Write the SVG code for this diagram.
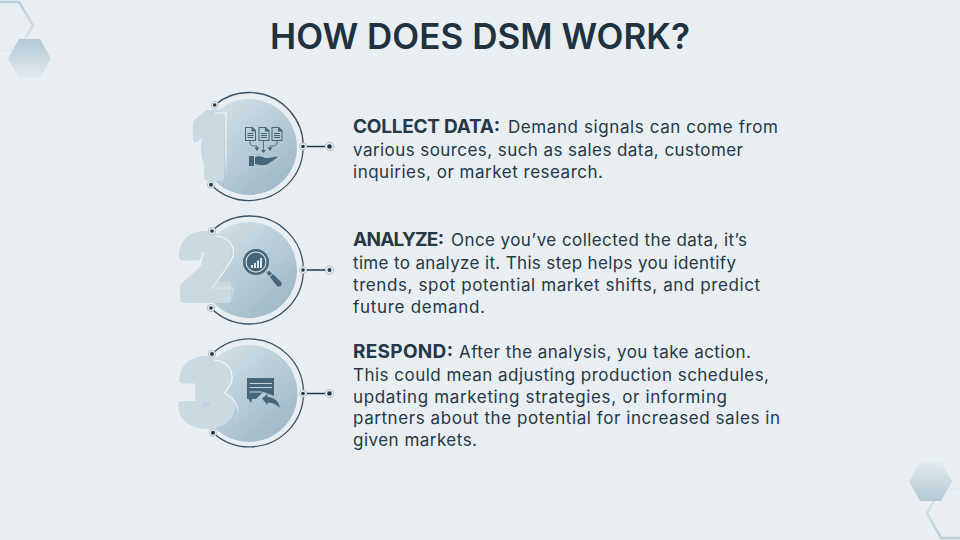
<svg xmlns="http://www.w3.org/2000/svg" width="960" height="540" viewBox="0 0 960 540">
<style>
text{font-family:"Inter","Liberation Sans",sans-serif;fill:#263845}
.t{font-size:35px;font-weight:600;fill:#20323f}
.h{font-size:19px;font-weight:650}
.b{font-size:17px;font-weight:400}
.arc{fill:none;stroke:#3d5261;stroke-width:1.3}
.disc{fill:url(#disc)}
.halo{fill:#e8eef2;stroke:#b4bfc6;stroke-width:1}
.dot{fill:#22384a}
.link{stroke:#22384a;stroke-width:1.4}
.num{font-size:86px;font-weight:900;fill:#c9dae3;stroke:#c9dae3;stroke-width:8;stroke-linejoin:round}
.edge{fill:none;stroke:url(#edge);stroke-width:1.2}
.ic{fill:#456579}
.icl{fill:none;stroke:#456579;stroke-width:0.9}
</style>
<defs>
<linearGradient id="disc" x1="0.15" y1="0.1" x2="0.85" y2="0.9"><stop offset="0" stop-color="#d0dfe6"/><stop offset="1" stop-color="#9fb9c8"/></linearGradient>
<linearGradient id="edge" x1="0" y1="0" x2="0" y2="1"><stop offset="0" stop-color="#f4f8fa"/><stop offset="0.7" stop-color="#f4f8fa" stop-opacity="0.8"/><stop offset="1" stop-color="#f4f8fa" stop-opacity="0"/></linearGradient>
<linearGradient id="hexa" x1="0" y1="0" x2="0" y2="1"><stop offset="0" stop-color="#b3cad6"/><stop offset="1" stop-color="#e2eaef"/></linearGradient>
<linearGradient id="hexb" x1="0" y1="0" x2="0" y2="1"><stop offset="0" stop-color="#e2eaef"/><stop offset="1" stop-color="#b3cad6"/></linearGradient>
<linearGradient id="outa" gradientUnits="userSpaceOnUse" x1="0" y1="0" x2="0" y2="52"><stop offset="0" stop-color="#b9cfda"/><stop offset="1" stop-color="#e2eaef"/></linearGradient>
<linearGradient id="outb" gradientUnits="userSpaceOnUse" x1="0" y1="488" x2="0" y2="540"><stop offset="0" stop-color="#e2eaef"/><stop offset="1" stop-color="#b9cfda"/></linearGradient>
</defs>
<rect width="960" height="540" fill="#e8eef2"/>
<g id="decor">
<path d="M-2 2H19L33 25L19 50H-2" fill="none" stroke="url(#outa)" stroke-width="2.6"/>
<path d="M19 39H40L51 58.500L40 78H19L8 58.500Z" fill="url(#hexa)"/>
<path d="M962 489H941L927 513L941 538H962" fill="none" stroke="url(#outb)" stroke-width="2.6"/>
<path d="M920 462H941L952 481.500L941 501H920L909 481.500Z" fill="url(#hexb)"/>
</g>
<text class="t" x="270" y="49" textLength="420">HOW DOES DSM WORK?</text>
<g id="connectors">
<path class="arc" d="M214.700 105A54 54 0 1 1 211 184.700"/>
<path class="arc" d="M212 231A54 54 0 1 1 211 308"/>
<path class="arc" d="M212 354A54 54 0 1 1 213 432.700"/>
<path class="link" d="M303 146.500H329.500M303 270H329.500M303 393.500H329.500"/>
</g>
<g id="node-1">
<circle class="disc" cx="249" cy="147" r="48"/>
<text class="num" x="193" y="177" textLength="31" lengthAdjust="spacingAndGlyphs">1</text>
<path class="edge" d="M215 113H226V176"/>
<g class="ic">
<path d="M245 127H252.500L256 130.500V141H245ZM246 128V140H255V131.500H251.500V128Z"/>
<path d="M258.500 127H266L269.500 130.500V141H258.500ZM259.500 128V140H268.500V131.500H265V128Z"/>
<path d="M271.500 127H279L282.500 130.500V141H271.500ZM272.500 128V140H281.500V131.500H278V128Z"/>
<path d="M247.500 133H253.500V134H247.500ZM247.500 135H253.500V136H247.500ZM247.500 137H253.500V138H247.500ZM261 133H267V134H261ZM261 135H267V136H261ZM261 137H267V138H261ZM274 133H280V134H274ZM274 135H280V136H274ZM274 137H280V138H274Z"/>
<path d="M249 156H254V166H249Z"/>
<path d="M255 157C259 155.500 262 156.500 265 158H269L277 156.500L278 157L268 164C264 166 259 165 255 164Z"/>
<path d="M254.500 147.500L257 151L259.500 147.500ZM261 150L263.500 153L266 150ZM267.500 147.500L270 151L272.500 147.500Z"/>
</g>
<path class="icl" d="M250 141V143C250 146 254 146 257 146V148M263.500 141V151M277 141V143C277 146 273 146 270 146V148"/>
<circle class="halo" cx="214.700" cy="105" r="3.600"/><circle class="dot" cx="214.700" cy="105" r="1.800"/>
<circle class="halo" cx="211" cy="184.700" r="3.600"/><circle class="dot" cx="211" cy="184.700" r="2"/>
<circle class="halo" cx="303" cy="146.500" r="3.600"/><circle class="dot" cx="303" cy="146.500" r="1.800"/>
<circle class="halo" cx="329.500" cy="146.500" r="4.200"/><circle class="dot" cx="329.500" cy="146.500" r="2.300"/>
</g>
<g id="node-2">
<circle class="disc" cx="249" cy="270" r="48"/>
<text class="num" x="180" y="299" textLength="51" lengthAdjust="spacingAndGlyphs">2</text>
<path class="edge" d="M216 236C230 237 235 247 233 256C231 263 222 274 212 288H233V300"/>
<circle cx="256" cy="262" r="13" class="ic"/>
<circle cx="256" cy="262" r="10" fill="none" stroke="#dbe6ec" stroke-width="1.100"/>
<path d="M251 268V265H253V268ZM254 268V263H256V268ZM257 268V260.500H259V268ZM260 268V258H262V268Z" fill="#dbe6ec"/>
<path class="ic" d="M266.500 273L269 270.500L272 273.500L269.500 276Z"/>
<path class="ic" d="M270 277L273 274L281 282C283 284.500 280 288 277 286Z"/>
<circle class="halo" cx="212" cy="231" r="3.600"/><circle class="dot" cx="212" cy="231" r="1.800"/>
<circle class="halo" cx="211" cy="308" r="3.600"/><circle class="dot" cx="211" cy="308" r="1.800"/>
<circle class="halo" cx="303" cy="270" r="3.600"/><circle class="dot" cx="303" cy="270" r="1.800"/>
<circle class="halo" cx="329.500" cy="270" r="4.200"/><circle class="dot" cx="329.500" cy="270" r="2"/>
</g>
<g id="node-3">
<circle class="disc" cx="249" cy="393.500" r="48.500"/>
<text class="num" x="179" y="424" textLength="55" lengthAdjust="spacingAndGlyphs">3</text>
<path class="edge" d="M214 360C233 362 238 380 224 393C238 400 243 415 232 421"/>
<path class="ic" d="M247 378H274V396L269 394L263 392L256 399H252L251 403L248.500 399H247Z"/>
<path d="M249.500 383.500H272M249.500 387.500H272M249.500 392H262" stroke="#c2d3dc" stroke-width="1" fill="none"/>
<path class="ic" d="M262 398.500L267.500 394V397C274 397 279 401 280 408C276 404 272 402.500 267.500 402.500V405Z"/>
<circle class="halo" cx="212" cy="354" r="3.600"/><circle class="dot" cx="212" cy="354" r="2"/>
<circle class="halo" cx="213" cy="432.700" r="3.600"/><circle class="dot" cx="213" cy="432.700" r="2"/>
<circle class="halo" cx="303" cy="393.500" r="3.600"/><circle class="dot" cx="303" cy="393.500" r="1.800"/>
<circle class="halo" cx="329.500" cy="393.500" r="4.200"/><circle class="dot" cx="329.500" cy="393.500" r="2.300"/>
</g>
<g id="text-1">
<text class="h" x="353" y="133" textLength="147">COLLECT DATA:</text>
<text class="b" x="508" y="133" textLength="270">Demand signals can come from</text>
<text class="b" x="353" y="155.500" textLength="390">various sources, such as sales data, customer</text>
<text class="b" x="353" y="177.500" textLength="250">inquiries, or market research.</text>
</g>
<g id="text-2">
<text class="h" x="353" y="246" textLength="91">ANALYZE:</text>
<text class="b" x="451" y="246" textLength="296">Once you’ve collected the data, it’s</text>
<text class="b" x="353" y="268.500" textLength="383">time to analyze it. This step helps you identify</text>
<text class="b" x="353" y="290.500" textLength="407">trends, spot potential market shifts, and predict</text>
<text class="b" x="353" y="312.500" textLength="132">future demand.</text>
</g>
<g id="text-3">
<text class="h" x="353" y="358" textLength="100">RESPOND:</text>
<text class="b" x="459" y="358" textLength="292">After the analysis, you take action.</text>
<text class="b" x="353" y="380.500" textLength="416">This could mean adjusting production schedules,</text>
<text class="b" x="353" y="402.500" textLength="374">updating marketing strategies, or informing</text>
<text class="b" x="353" y="424" textLength="427">partners about the potential for increased sales in</text>
<text class="b" x="353" y="446" textLength="124">given markets.</text>
</g>
</svg>
